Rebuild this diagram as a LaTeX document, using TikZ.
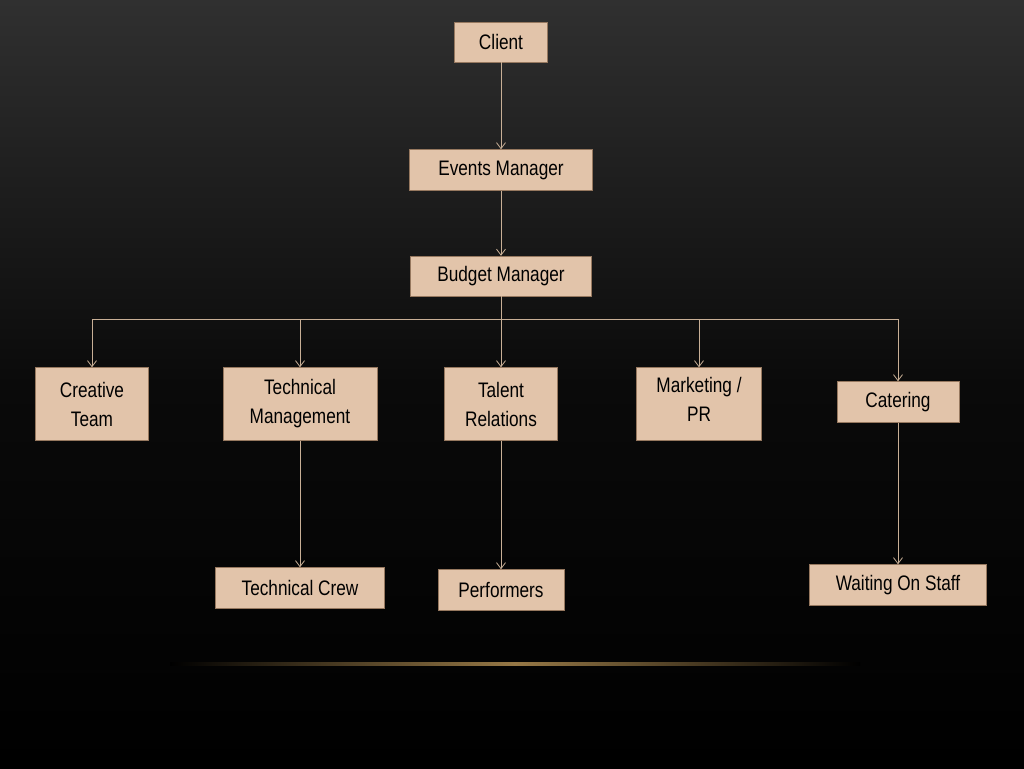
\documentclass[tikz,border=0pt]{standalone}
\usepackage{fontspec}
\setmainfont{Liberation Sans}[FakeStretch=0.82]
\usetikzlibrary{arrows.meta}
\definecolor{boxfill}{RGB}{226,196,170}
\definecolor{boxline}{RGB}{150,120,95}
\definecolor{wire}{RGB}{200,175,150}
\begin{document}
\begin{tikzpicture}[x=1pt,y=-1pt,
  box/.style={draw=boxline,fill=boxfill,inner sep=0pt,align=center,font=\fontsize{21}{29}\selectfont,text=black},
  arr/.style={draw=wire,line width=0.8pt,-{Straight Barb[length=6pt,width=9pt]}}]
\shade[top color={rgb,255:red,48;green,48;blue,48},bottom color=black,middle color={rgb,255:red,10;green,10;blue,10}] (0,0) rectangle (1024,768);
\useasboundingbox (0,0) rectangle (1024,768);
\shade[left color=black,right color=black,middle color={rgb,255:red,150;green,120;blue,70}] (170,662) rectangle (860,665);
\node[box,minimum width=93pt,minimum height=40pt] (client) at (501,42) {Client};
\node[box,minimum width=183pt,minimum height=41pt] (events) at (501,170) {Events Manager};
\node[box,minimum width=181pt,minimum height=40pt] (budget) at (501,276) {Budget Manager};
\node[box,minimum width=113pt,minimum height=73pt] (creative) at (92,404) {Creative\\Team};
\node[box,minimum width=154pt,minimum height=73pt] (tech) at (300,404) {Technical\\Management};
\node[box,minimum width=113pt,minimum height=73pt] (talent) at (501,404) {Talent\\Relations};
\node[box,minimum width=125pt,minimum height=73pt] (mkt) at (699,404) {Marketing /\\PR\rule[-10pt]{0pt}{0pt}};
\node[box,minimum width=122pt,minimum height=41pt] (cater) at (898,402) {Catering};
\node[box,minimum width=169pt,minimum height=41pt] (crew) at (300,588) {Technical Crew};
\node[box,minimum width=126pt,minimum height=41pt] (perf) at (501,590) {Performers};
\node[box,minimum width=177pt,minimum height=41pt] (wait) at (898,585) {Waiting On Staff};
\coordinate (bl) at (92,319); \coordinate (br) at (898,319); \coordinate (bm) at (501,319);
\draw[arr] (client) -- (events);
\draw[arr] (events) -- (budget);
\draw[draw=wire,line width=0.8pt] (budget) -- (bm);
\draw[draw=wire,line width=0.8pt] (bl) -- (br);
\draw[arr] (bl) -- (creative);
\draw[arr] (300,319) -- (tech);
\draw[arr] (bm) -- (talent);
\draw[arr] (699,319) -- (mkt);
\draw[arr] (br) -- (cater);
\draw[arr] (tech) -- (crew);
\draw[arr] (talent) -- (perf);
\draw[arr] (cater) -- (wait);
\end{tikzpicture}
\end{document}
